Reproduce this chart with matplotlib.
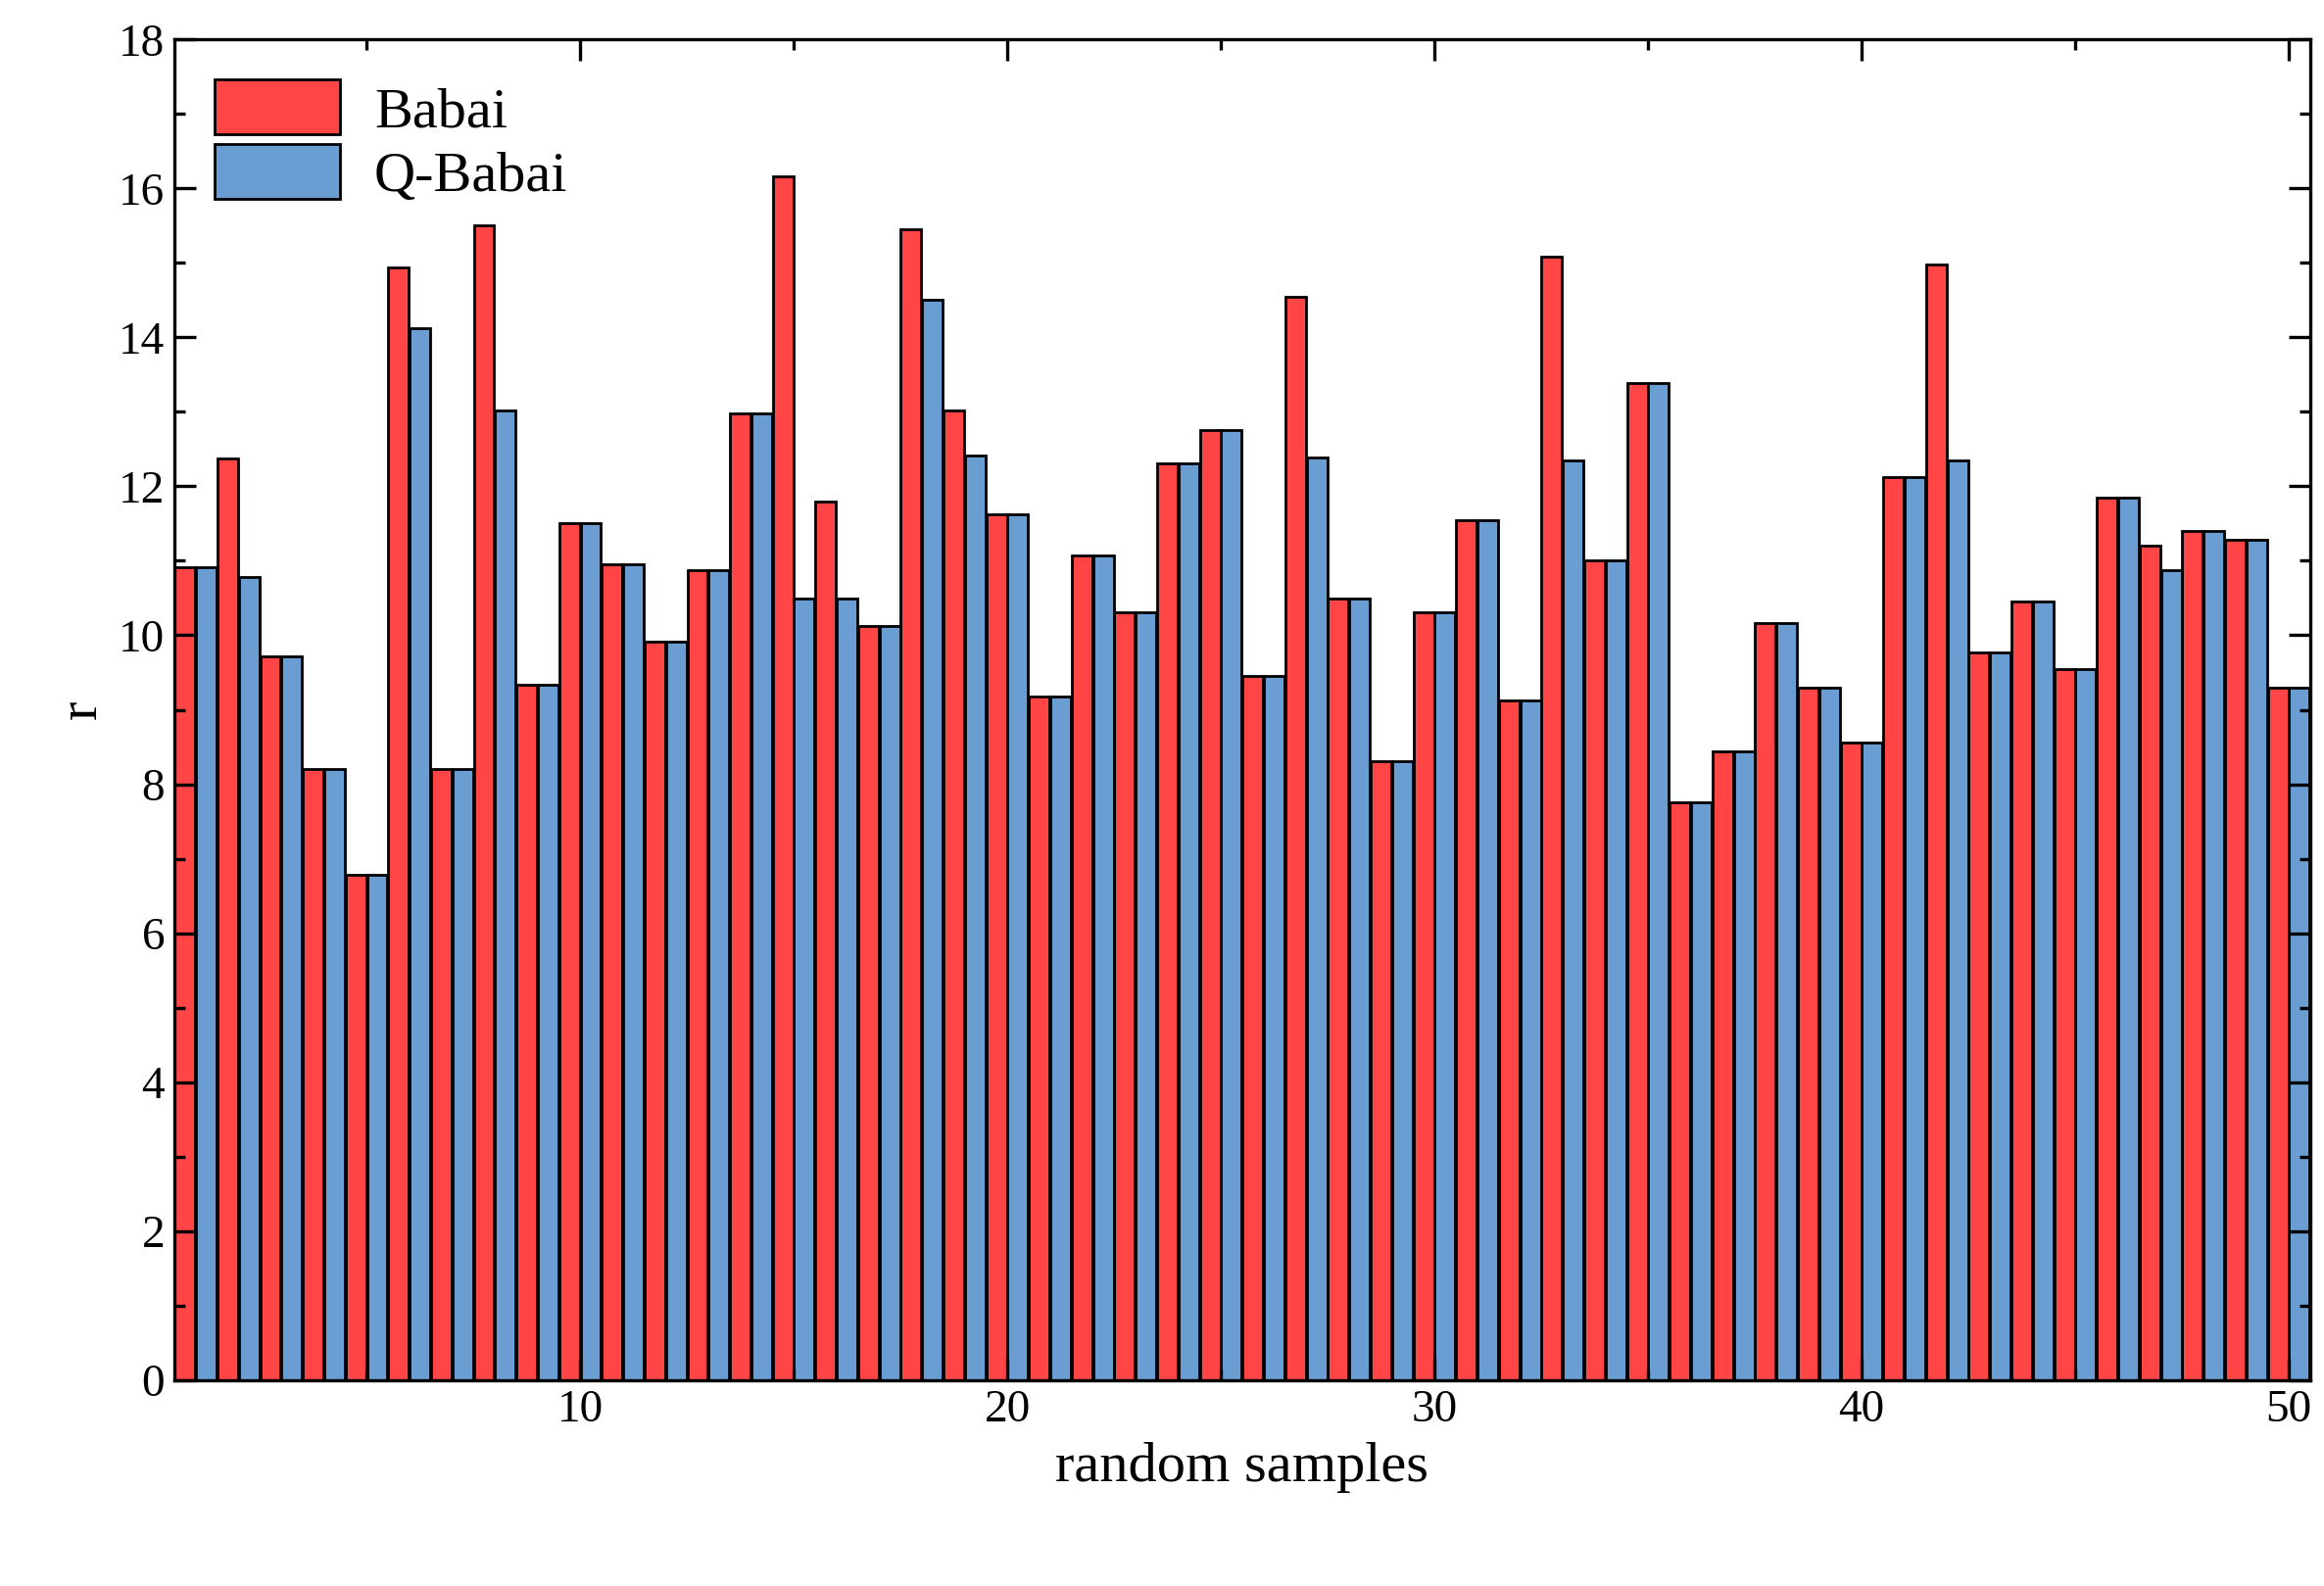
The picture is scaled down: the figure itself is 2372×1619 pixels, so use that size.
import matplotlib.pyplot as plt
import numpy as np
from matplotlib.ticker import MultipleLocator

samples = np.arange(1, 51)
babai = [10.92, 12.37, 9.72, 8.2, 6.78, 14.94, 8.2, 15.5, 9.34, 11.5,
         10.96, 9.92, 10.87, 12.98, 16.16, 11.8, 10.12, 15.45, 13.02, 11.63,
         9.18, 11.07, 10.31, 12.31, 12.75, 9.45, 14.54, 10.49, 8.31, 10.31,
         11.55, 9.12, 15.08, 11.01, 13.39, 7.76, 8.44, 10.17, 9.29, 8.56,
         12.13, 14.98, 9.77, 10.46, 9.54, 11.85, 11.2, 11.4, 11.28, 9.29]
qbabai = [10.92, 10.78, 9.72, 8.2, 6.78, 14.12, 8.2, 13.02, 9.34, 11.5,
          10.96, 9.92, 10.87, 12.98, 10.49, 10.49, 10.12, 14.51, 12.41, 11.63,
          9.18, 11.07, 10.31, 12.31, 12.75, 9.45, 12.39, 10.49, 8.31, 10.31,
          11.55, 9.12, 12.35, 11.01, 13.39, 7.76, 8.44, 10.17, 9.29, 8.56,
          12.13, 12.35, 9.77, 10.46, 9.54, 11.85, 10.88, 11.4, 11.28, 9.29]

plt.rcParams['font.family'] = ['Liberation Serif', 'DejaVu Serif']
fig = plt.figure(figsize=(11.86, 8.095), dpi=200)
ax = fig.add_axes([0.075, 0.13, 0.919, 0.845])

w = 0.48
ax.bar(samples - 0.25, babai, width=w, color='#FF4545', edgecolor='black', linewidth=1, label='Babai')
ax.bar(samples + 0.25, qbabai, width=w, color='#6A9ED2', edgecolor='black', linewidth=1, label='Q-Babai')

ax.set_xlim(0.5, 50.5)
ax.set_ylim(0, 18)
ax.xaxis.set_major_locator(MultipleLocator(10))
ax.xaxis.set_minor_locator(MultipleLocator(5))
ax.yaxis.set_major_locator(MultipleLocator(2))
ax.yaxis.set_minor_locator(MultipleLocator(1))
ax.tick_params(which='both', direction='in', top=True, right=True, labelsize=17, width=1.2)
ax.tick_params(which='major', length=8)
ax.tick_params(which='minor', length=4)
for s in ax.spines.values():
    s.set_linewidth(1.2)

ax.set_xlabel('random samples', fontsize=21)
ax.set_ylabel('r', fontsize=21)
ax.legend(loc='upper left', fontsize=21, frameon=False, handlelength=2.2, handleheight=1.1,
          borderaxespad=0.3, handletextpad=0.6, labelspacing=0.1)

fig.savefig('out.png', dpi=200)
